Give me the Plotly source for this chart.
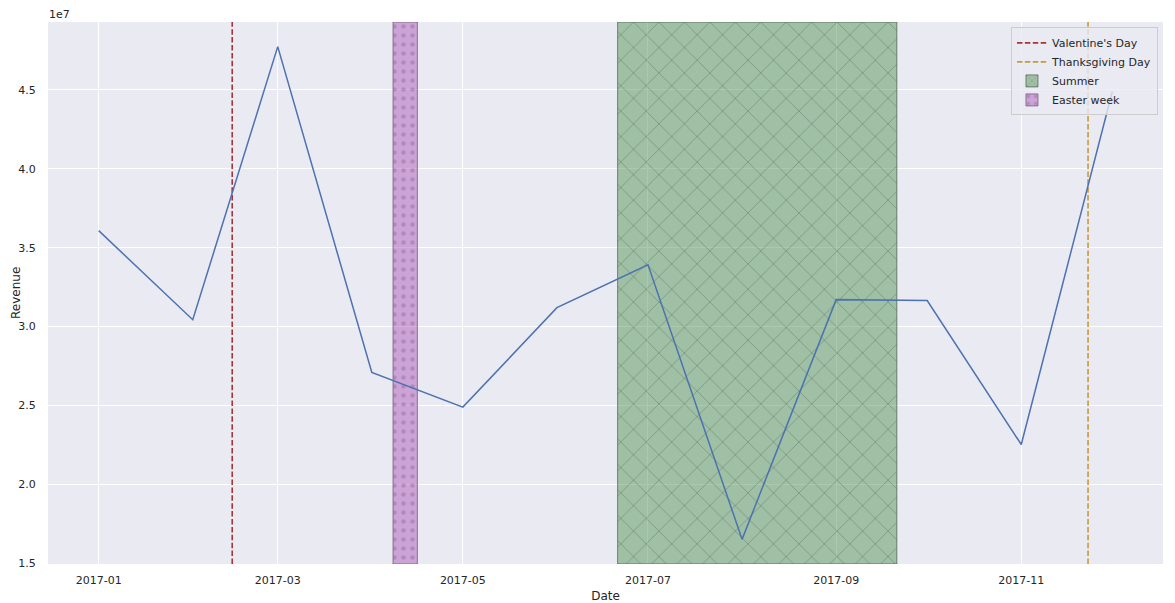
import pandas as pd
import plotly.graph_objects as go

# monthly revenue
dates = pd.date_range("2017-01-01", periods=12, freq="MS")
revenue = [3.608e7, 3.044e7, 4.774e7, 2.709e7, 2.49e7, 3.12e7,
           3.392e7, 1.652e7, 3.171e7, 3.165e7, 2.253e7, 4.49e7]

# events
event_names = ["Valentine's Day", "Thanksgiving Day"]
event_dates = ["2017-02-14", "2017-11-23"]
event_colors = ["#A8333A", "#C99A3C"]

# periods
period_names = ["Summer", "Easter week"]
period_starts = ["2017-06-21", "2017-04-08"]
period_ends = ["2017-09-21", "2017-04-16"]

FONT = "DejaVu Sans"
TXT = "#262626"

# matplotlib style autoscale with 5% margins
lo, hi = min(revenue), max(revenue)
pad = (hi - lo) * 0.05
ylo, yhi = lo - pad, hi + pad
xspan = dates.max() - dates.min()
xlo, xhi = dates.min() - xspan * 0.05, dates.max() + xspan * 0.05

fig = go.Figure()

period_style = {
    "Summer": dict(color="rgba(86,150,88,0.5)", line="rgba(70,90,70,0.7)",
                   pattern=dict(shape="x", size=18, solidity=0.08,
                                fgcolor="rgba(70,85,70,0.9)", fillmode="overlay")),
    "Easter week": dict(color="rgba(174,92,186,0.5)", line="rgba(120,90,125,0.8)",
                        pattern=dict(shape=".", size=9, solidity=0.2,
                                     fgcolor="rgba(140,100,145,0.8)", fillmode="overlay")),
}

for name, s, e in zip(period_names, period_starts, period_ends):
    s, e = pd.Timestamp(s), pd.Timestamp(e)
    st = period_style[name]
    fig.add_trace(go.Bar(
        x=[s + (e - s) / 2], y=[yhi - ylo], base=[ylo],
        width=[(e - s).total_seconds() * 1000],
        name=name,
        marker=dict(color=st["color"], line=dict(color=st["line"], width=1),
                    pattern=st["pattern"]),
        hoverinfo="skip",
    ))

for name, d, c in zip(event_names, event_dates, event_colors):
    fig.add_trace(go.Scatter(
        x=[d, d], y=[ylo, yhi], mode="lines", name=name,
        line=dict(color=c, width=1.6, dash="5.5px,2.4px"),
    ))

fig.add_trace(go.Scatter(
    x=dates, y=revenue, mode="lines", showlegend=False,
    line=dict(color="#4C72B0", width=1.5),
))

# legend order as in the reference
for tr, rank in zip(fig.data, [3, 4, 1, 2, 5]):
    tr.legendrank = rank

ytick = [1.5e7 + 0.5e7 * i for i in range(7)]

# page body has an 8px margin, so the figure is 8px smaller on each side
fig.update_layout(
    width=1167, height=595,
    margin=dict(l=40, r=12, t=14, b=39),
    paper_bgcolor="white", plot_bgcolor="#EAEAF2",
    font=dict(family=FONT, size=11, color=TXT),
    barmode="overlay",
    legend=dict(x=0.9955, y=0.99, xanchor="right", yanchor="top",
                bgcolor="rgba(234,234,242,0.8)", bordercolor="#CCCCCC", borderwidth=1,
                font=dict(size=11, color=TXT), tracegroupgap=0),
    xaxis=dict(type="date", range=[xlo, xhi], dtick="M2", tick0="2017-01-01",
               tickformat="%Y-%m", showgrid=True, gridcolor="white", gridwidth=1,
               zeroline=False, showline=False, ticks="outside", ticklen=6,
               tickcolor="rgba(0,0,0,0)", automargin=False,
               title=dict(text="Date", font=dict(size=12))),
    yaxis=dict(range=[ylo, yhi], tickvals=ytick, ticktext=[f"{v / 1e7:.1f}" for v in ytick],
               showgrid=True, gridcolor="white", gridwidth=1, zeroline=False,
               ticks="outside", ticklen=9, tickcolor="rgba(0,0,0,0)", automargin=False),
    annotations=[
        dict(text="1e7", x=0, y=1, xref="paper", yref="paper",
             xanchor="left", yanchor="bottom", showarrow=False, borderpad=0,
             font=dict(size=11, color=TXT), yshift=0),
        dict(text="Revenue", x=0, y=0.5, xref="paper", yref="paper",
             xanchor="center", yanchor="middle", textangle=-90, showarrow=False,
             font=dict(size=12, color=TXT), xshift=-32),
    ],
)

fig.write_html("out.html")
